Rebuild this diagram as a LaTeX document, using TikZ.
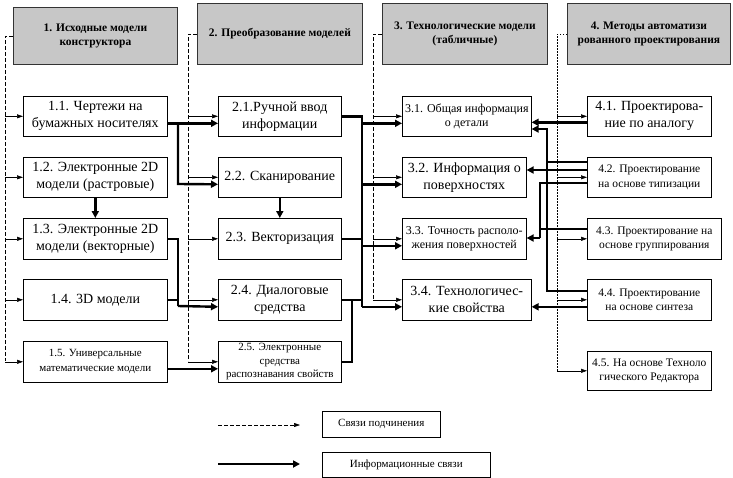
\documentclass[tikz,border=0pt]{standalone}
\usepackage{fontspec}
\setmainfont{Liberation Serif}
\usetikzlibrary{arrows.meta}
\begin{document}
\begin{tikzpicture}[x=1pt,y=-1pt,
  box/.style={draw,line width=0.6pt,anchor=north west,inner sep=0pt,align=center,font=\fontsize{14}{17}\selectfont},
  sbox/.style={box,font=\fontsize{11.5}{14}\selectfont},
  hdr/.style={draw=black!80,line width=0.8pt,fill=black!22,anchor=north west,inner sep=0pt,align=center,font=\bfseries\fontsize{11.5}{13.5}\selectfont},
  sub/.style={dashed,line width=0.5pt,dash pattern=on 4pt off 2pt},
  subarr/.style={line width=0.5pt,-{Triangle[length=6pt,width=4pt]}},
  info/.style={line width=2.4pt},
  infoarr/.style={line width=2.4pt,-{Triangle[length=7pt,width=7pt]}}]
\useasboundingbox (0,0) rectangle (733,477);
% headers
\node[hdr,minimum width=164pt,minimum height=57pt] (h1) at (13,7) {1. Исходные модели\\конструктора};
\node[hdr,minimum width=165pt,minimum height=61pt] (h2) at (197,3) {2. Преобразование моделей};
\node[hdr,minimum width=165pt,minimum height=61pt] (h3) at (382,3) {3. Технологические модели\\(табличные)};
\node[hdr,minimum width=163pt,minimum height=61pt] (h4) at (567,3) {4. Методы автоматизи\\рованного проектирования};
% column 1
\node[box,minimum width=144pt,minimum height=40pt] (b11) at (23,96) {1.1. Чертежи на\\бумажных носителях};
\node[box,minimum width=144pt,minimum height=40pt] (b12) at (23,157) {1.2. Электронные 2D\\модели (растровые)};
\node[box,minimum width=144pt,minimum height=41pt] (b13) at (23,218) {1.3. Электронные 2D\\модели (векторные)};
\node[box,minimum width=144pt,minimum height=41pt] (b14) at (23,279) {1.4. 3D модели};
\node[box,minimum width=144pt,minimum height=41pt,font=\fontsize{11}{15}\selectfont] (b15) at (23,341) {1.5. Универсальные\\математические модели};
% column 2
\node[box,minimum width=123pt,minimum height=40pt] (b21) at (218,96) {2.1.Ручной ввод\\информации};
\node[box,minimum width=123pt,minimum height=40pt] (b22) at (218,157) {2.2. Сканирование};
\node[box,minimum width=123pt,minimum height=41pt] (b23) at (218,218) {2.3. Векторизация};
\node[box,minimum width=123pt,minimum height=41pt] (b24) at (218,279) {2.4. Диалоговые\\средства};
\node[box,minimum width=123pt,minimum height=41pt,font=\fontsize{11}{13.5}\selectfont] (b25) at (218,341) {2.5. Электронные\\средства\\распознавания свойств};
% column 3
\node[sbox,minimum width=129pt,minimum height=40pt,font=\fontsize{12}{14}\selectfont] (b31) at (402,96) {3.1. Общая информация\\о детали};
\node[box,minimum width=124pt,minimum height=40pt] (b32) at (402,157) {3.2. Информация о\\поверхностях};
\node[sbox,minimum width=124pt,minimum height=41pt,font=\fontsize{12}{14}\selectfont] (b33) at (402,218) {3.3. Точность располо-\\жения поверхностей};
\node[box,minimum width=129pt,minimum height=41pt] (b34) at (402,279) {3.4. Технологичес-\\кие свойства};
% column 4
\node[box,minimum width=124pt,minimum height=40pt] (b41) at (587,96) {4.1. Проектирова-\\ние по аналогу};
\node[sbox,minimum width=124pt,minimum height=40pt] (b42) at (587,157) {4.2. Проектирование\\на основе типизации};
\node[sbox,minimum width=134pt,minimum height=41pt] (b43) at (587,218) {4.3. Проектирование на\\основе группирования};
\node[sbox,minimum width=124pt,minimum height=41pt] (b44) at (587,279) {4.4. Проектирование\\на основе синтеза};
\node[sbox,minimum width=124pt,minimum height=39pt] (b45) at (587,351) {4.5. На основе Техноло\\гического Редактора};
% subordination lines
\coordinate (d1) at (5,361);
\coordinate (d2) at (188,361);
\coordinate (d3) at (373,300);
\coordinate (d4) at (557,371);
\draw[sub] (h1.west) -| (d1);
\draw[sub] (h2.west |- 0,34) -| (d2);
\draw[sub] (h3.west |- 0,34) -| (d3);
\draw[line width=0.5pt,dash pattern=on 1.5pt off 1.5pt] (h4.west |- 0,34) -| (d4);
\foreach \b in {b11,b12,b13,b14,b15} \draw[subarr] (\b.west -| d1) -- (\b.west);
\foreach \b in {b21,b22,b23,b24,b25} \draw[subarr] (\b.west -| d2) -- (\b.west);
\foreach \b in {b31,b32,b33,b34} \draw[subarr] (\b.west -| d3) -- (\b.west);
\foreach \b in {b41,b42,b43,b44,b45} \draw[subarr] (\b.west -| d4) -- (\b.west);
% information links col1 -> col2
\coordinate (v1) at (178,0);
\draw[infoarr] ([yshift=-7pt]b11.east) -- ([yshift=-7pt]b21.west);
\draw[infoarr] ([yshift=-7pt]b11.east) -| (v1 |- 0,184) -- ([yshift=-7pt]b22.west);
\draw[infoarr] (b12.south) -- (b13.north);
\draw[infoarr] (b22.south) -- (b23.north);
\draw[info] (b13.east) -| (v1 |- 0,306);
\draw[info] (b14.east) -- (v1 |- b14.east);
\draw[infoarr] (v1 |- 0,306) -- ([yshift=-7pt]b24.west);
\draw[infoarr] ([yshift=-7pt]b15.east) -- ([yshift=-7pt]b25.west);
% col2 -> col3
\coordinate (v2) at (362,0);
\coordinate (v3) at (352,0);
\draw[info] (b21.east) -- (v2 |- b21.east) -- (v2 |- 0,307);
\draw[info] (b23.east) -- (v2 |- b23.east);
\draw[info] (b24.east) -- (v2 |- b24.east);
\draw[info] (v3 |- b24.east) -- (v3 |- b25.east) -- (b25.east);
\foreach \b in {b31,b32,b33,b34} {
  \coordinate (t) at ([yshift=-7pt]\b.west);
  \draw[infoarr] (t -| v2) -- (t);
}
% col4 -> col3
\coordinate (v4) at (547,0);
\coordinate (v5) at (540,0);
\coordinate (t41) at ([yshift=-6pt]b41.west);
\draw[infoarr] (t41) -- (t41 -| b31.east);
\draw[infoarr] (b44.west |- 0,291) -- (v4 |- 0,291) -- (v4 |- 0,129) -- (b31.east |- 0,129);
\draw[info] (b42.west |- 0,162) -- (v4 |- 0,162);
\draw[infoarr] (b42.west |- 0,170) -- (b32.east |- 0,170);
\draw[info] (b42.west |- 0,183) -- (v5 |- 0,183) -- (v5 |- 0,238);
\draw[info] (b43.west |- 0,229) -- (v5 |- 0,229);
\draw[infoarr] (v5 |- 0,238) -- (b33.east |- 0,238);
\coordinate (t44) at ([yshift=-7pt]b44.west);
\draw[infoarr] (t44) -- (t44 -| b34.east);
% legend
\node[box,minimum width=118pt,minimum height=26pt,font=\fontsize{11}{13}\selectfont] (l1) at (322,411) {Связи подчинения};
\node[box,minimum width=168pt,minimum height=25pt,font=\fontsize{11}{13}\selectfont] (l2) at (322,452) {Информационные связи};
\coordinate (la) at (218,425);
\coordinate (lb) at (218,464);
\draw[sub,-{Triangle[length=6pt,width=4pt]}] (la) -- (la -| 300,0);
\draw[infoarr] (lb) -- (lb -| 300,0);
\end{tikzpicture}
\end{document}
